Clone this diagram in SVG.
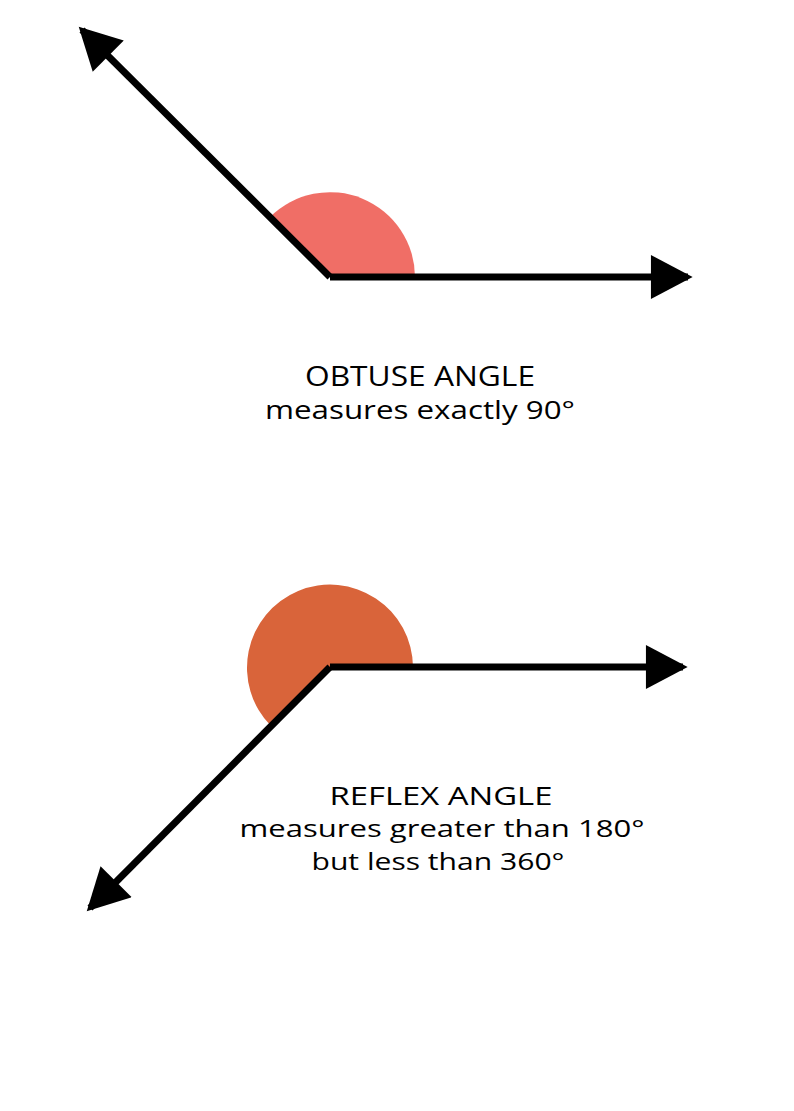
<svg xmlns="http://www.w3.org/2000/svg" width="794" height="1111" viewBox="0 0 794 1111">
<style>
.ray{fill:none;stroke:#000;stroke-width:7;stroke-linejoin:miter;marker-end:url(#ah)}
.t{font-family:"Open Sans","Liberation Sans",sans-serif;fill:#000;text-anchor:middle}
</style>
<defs>
<marker id="ah" markerUnits="userSpaceOnUse" markerWidth="44" markerHeight="44" viewBox="0 0 36 38" refX="32" refY="19" orient="auto">
<path d="M0,0 L36,19 L0,38 Z" fill="#000"/>
</marker>
</defs>
<rect width="794" height="1111" fill="#fff"/>
<g id="obtuse">
<path d="M330,277 L415,277 A85,85 0 0 0 270,217 Z" fill="#F06E66"/>
<path class="ray" d="M330,277 L688,277"/>
<path class="ray" d="M330,277 L82,30"/>
<text class="t" x="420" y="386" font-size="27" textLength="230" lengthAdjust="spacingAndGlyphs">OBTUSE ANGLE</text>
<text class="t" x="420" y="419" font-size="25" textLength="310" lengthAdjust="spacingAndGlyphs">measures exactly 90°</text>
</g>
<g id="reflex">
<path d="M330,667 L413,667 A83,83 0 1 0 271,726 Z" fill="#D9643A"/>
<path class="ray" d="M330,667 L683,667"/>
<path class="ray" d="M330,667 L90,908"/>
<text class="t" x="441" y="805" font-size="26" textLength="223" lengthAdjust="spacingAndGlyphs">REFLEX ANGLE</text>
<text class="t" x="442" y="837" font-size="24" textLength="405" lengthAdjust="spacingAndGlyphs">measures greater than 180°</text>
<text class="t" x="438" y="870" font-size="24" textLength="253" lengthAdjust="spacingAndGlyphs">but less than 360°</text>
</g>
</svg>
